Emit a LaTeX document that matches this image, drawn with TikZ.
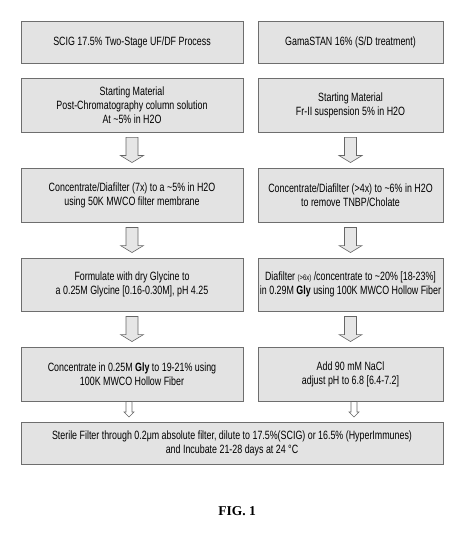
\documentclass[tikz,border=0pt]{standalone}
\usepackage{fontspec}
\setmainfont{Liberation Sans}[FakeStretch=0.74]
\newfontfamily\figfont{Liberation Serif}
\usetikzlibrary{calc}
\definecolor{boxfill}{HTML}{E3E3E3}
\definecolor{boxline}{HTML}{6E6E6E}
\definecolor{arrowfill}{HTML}{E6E6E6}
\tikzset{
  box/.style={draw=boxline, fill=boxfill, line width=0.9pt, rectangle, align=center,
    inner sep=0pt, font=\fontsize{12}{13.8}\selectfont, text=black},
  lbox/.style={box, minimum width=222pt},
  rbox/.style={box, minimum width=185pt},
  bigarrow/.style={draw=black!60, fill=arrowfill, line width=0.6pt, line join=miter,
    to path={let \p1=(\tikztostart), \p2=(\tikztotarget) in
      (\x1-6pt,\y1-5pt) -- (\x1+6pt,\y1-5pt) -- (\x1+6pt,\y2+12pt) -- (\x1+11.5pt,\y2+12pt)
      -- (\x1,\y2+5pt) -- (\x1-11.5pt,\y2+12pt) -- (\x1-6pt,\y2+12pt) -- cycle}},
  smallarrow/.style={draw=black!60, fill=white, line width=0.6pt,
    to path={let \p1=(\tikztostart), \p2=(\tikztotarget) in
      (\x1-3pt,\y1) -- (\x1+3pt,\y1) -- (\x1+3pt,\y2+10pt) -- (\x1+5pt,\y2+10pt)
      -- (\x1,\y2+5pt) -- (\x1-5pt,\y2+10pt) -- (\x1-3pt,\y2+10pt) -- cycle}}
}
\begin{document}
\begin{tikzpicture}[x=1pt,y=-1pt]
\useasboundingbox (0,0) rectangle (474,545);
% left column
\node[lbox, minimum height=42pt] (l1) at (132,42) {SCIG 17.5\% Two-Stage UF/DF Process};
\node[lbox, minimum height=54pt] (l2) at (132,105) {Starting Material\\Post-Chromatography column solution\\At \textasciitilde5\% in H2O};
\node[lbox, minimum height=54pt] (l3) at (132,195) {Concentrate/Diafilter (7x) to a \textasciitilde5\% in H2O\\using 50K MWCO filter membrane};
\node[lbox, minimum height=53pt] (l4) at (132,284.5) {Formulate with dry Glycine to\\a 0.25M Glycine [0.16-0.30M], pH 4.25};
\node[lbox, minimum height=54pt] (l5) at (132,374) {Concentrate in 0.25M \textbf{Gly} to 19-21\% using\\100K MWCO Hollow Fiber};
% right column
\node[rbox, minimum height=42pt] (r1) at (350.5,42) {GamaSTAN 16\% (S/D treatment)};
\node[rbox, minimum height=54pt] (r2) at (350.5,105) {Starting Material\\Fr-II suspension 5\% in H2O};
\node[rbox, minimum height=54pt] (r3) at (350.5,195) {Concentrate/Diafilter (>4x) to \textasciitilde6\% in H2O\\to remove TNBP/Cholate};
\node[rbox, minimum height=53pt] (r4) at (350.5,284.5) {Diafilter {\fontsize{8}{9}\selectfont(>6x)} /concentrate to \textasciitilde20\% [18-23\%]\\in 0.29M \textbf{Gly} using 100K MWCO Hollow Fiber};
\node[rbox, minimum height=54pt] (r5) at (350.5,374) {Add 90 mM NaCl\\adjust pH to 6.8 [6.4-7.2]};
% bottom
\node[box, minimum width=422pt, minimum height=42pt] (b) at (232,443) {Sterile Filter through 0.2μm absolute filter, dilute to 17.5\%(SCIG) or 16.5\% (HyperImmunes)\\and Incubate 21-28 days at 24 °C};
\node[font=\figfont\bfseries\fontsize{13.5}{15}\selectfont] (fig) at (237,511) {FIG. 1};
% arrows
\path (l2.south) edge[bigarrow] (l3.north);
\path (l3.south) edge[bigarrow] (l4.north);
\path (l4.south) edge[bigarrow] (l5.north);
\path (r2.south) edge[bigarrow] (r3.north);
\path (r3.south) edge[bigarrow] (r4.north);
\path (r4.south) edge[bigarrow] (r5.north);
\coordinate (bl) at (129,422);
\coordinate (br) at (354,422);
\path ([xshift=-3pt]l5.south) edge[smallarrow] (bl);
\path ([xshift=3.5pt]r5.south) edge[smallarrow] (br);
\end{tikzpicture}
\end{document}
